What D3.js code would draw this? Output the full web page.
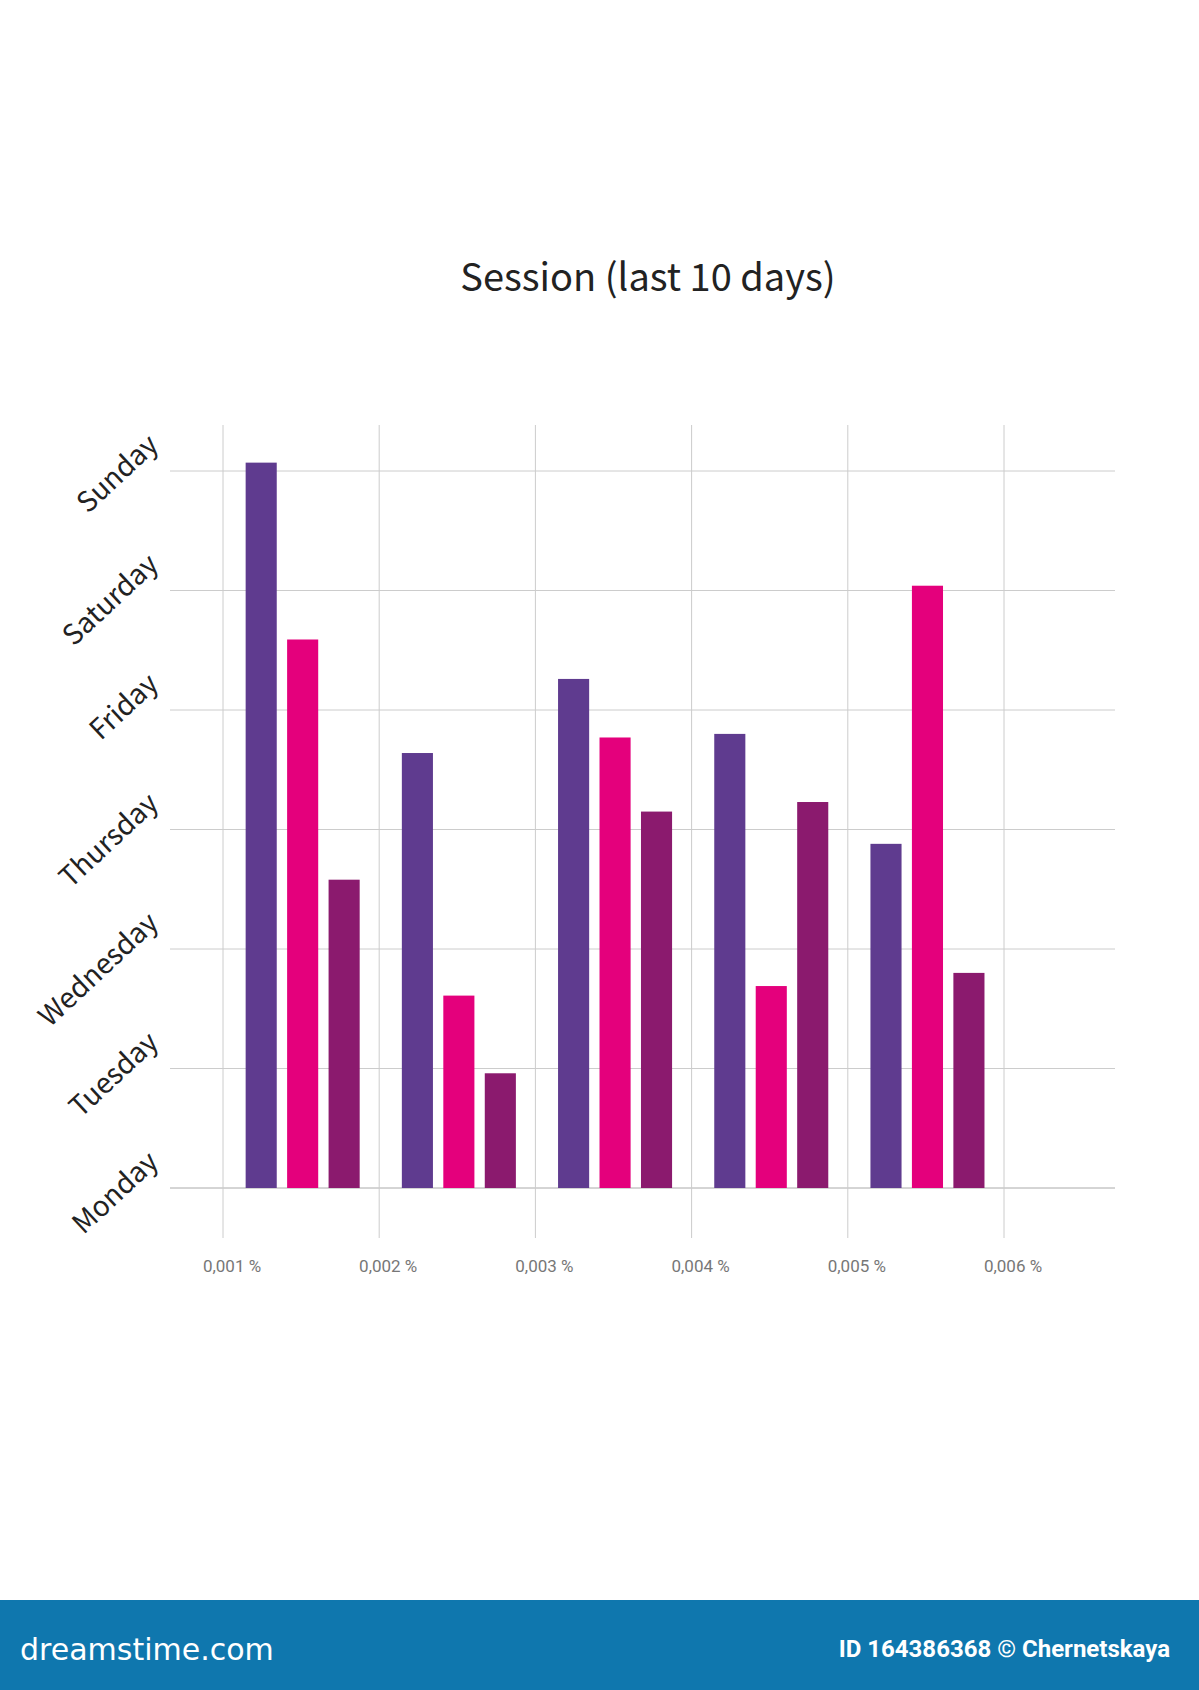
<!DOCTYPE html><html><head><meta charset="utf-8"><script src="https://cdn.jsdelivr.net/npm/d3@7"></script>
<style>body{margin:0;background:#fff}</style></head><body><svg id="c" width="1199" height="1690"></svg>
<script>
const days=["Monday","Tuesday","Wednesday","Thursday","Friday","Saturday","Sunday"];
const xTicks=[0.001,0.002,0.003,0.004,0.005,0.006];
const groups=[0.001,0.002,0.003,0.004,0.005];
const series1=[6.07,3.64,4.26,3.80,2.88];
const series2=[4.59,1.61,3.77,1.69,5.04];
const series3=[2.58,0.96,3.15,3.23,1.80];
const colors=["#5f3b8f","#e4007c","#8b1a6e"];
const svg=d3.select("#c");
const x=d3.scaleLinear().domain([0.001,0.006]).range([223,1004]);
const y=d3.scaleLinear().domain([0,6]).range([1188,471]);
const g=svg.append("g");
days.forEach((d,i)=>g.append("line").attr("x1",170).attr("x2",1115).attr("y1",y(i)).attr("y2",y(i)).attr("stroke",i==0?"#aaa":"#ccc").attr("stroke-width",1));
xTicks.forEach(t=>g.append("line").attr("x1",x(t)).attr("x2",x(t)).attr("y1",425).attr("y2",1238).attr("stroke","#ccc"));
const step=x(0.002)-x(0.001);
const inner=d3.scaleBand().domain([0,1,2]).range([step*0.145,step*0.145+step*0.73]).paddingInner(0.25);
[series1,series2,series3].forEach((s,k)=>{
  g.selectAll(null).data(s).enter().append("rect")
   .attr("x",(v,i)=>x(groups[i])+inner(k)).attr("width",inner.bandwidth())
   .attr("y",v=>y(v)).attr("height",v=>y(0)-y(v)).attr("fill",colors[k]);
});
days.forEach((d,i)=>g.append("text").text(d).attr("transform",`translate(160,${y(i)-24}) rotate(-43)`)
  .attr("text-anchor","end").attr("font-family","Noto Sans CJK JP").attr("font-size",28).attr("fill","#222"));
xTicks.forEach(t=>g.append("text").text(t.toFixed(3).replace(".",",")+" %").attr("x",x(t)+9).attr("y",1272)
  .attr("text-anchor","middle").attr("font-family","Roboto").attr("font-size",17).attr("fill","#777"));
svg.append("text").text("Session (last 10 days)").attr("x",648).attr("y",291).attr("text-anchor","middle")
  .attr("font-family","Noto Sans CJK JP").attr("font-size",38).attr("fill","#222");
svg.append("rect").attr("x",0).attr("y",1600).attr("width",1199).attr("height",90).attr("fill","#0f77ae");
svg.append("text").text("dreamstime.com").attr("x",20).attr("y",1660).attr("font-family","DejaVu Sans").attr("font-size",30).attr("fill","#fff");
svg.append("text").text("ID 164386368 © Chernetskaya").attr("x",1170).attr("y",1657).attr("text-anchor","end").attr("font-family","Roboto").attr("font-weight","bold").attr("font-size",24).attr("fill","#fff");
</script></body></html>
